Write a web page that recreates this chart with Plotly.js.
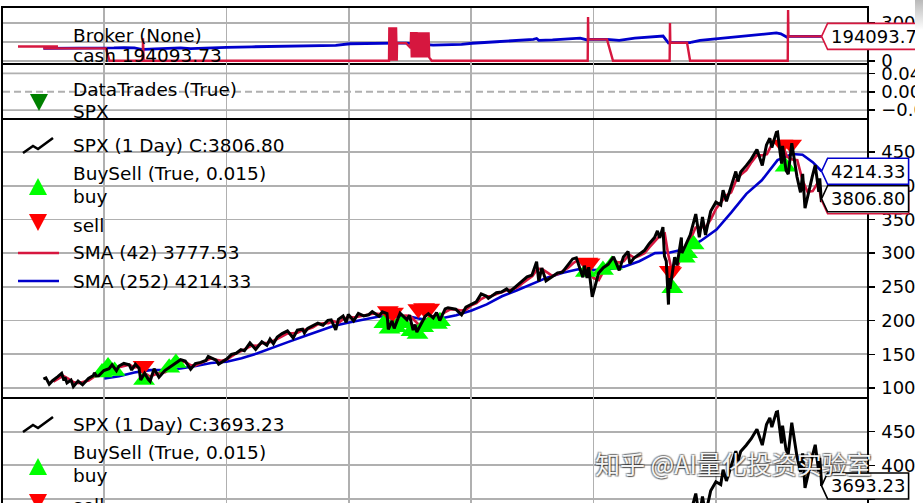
<!DOCTYPE html>
<html><head><meta charset="utf-8">
<script src="https://cdn.plot.ly/plotly-3.0.1.min.js"></script>
<style>html,body{margin:0;padding:0;background:#fff;}
#wrap{position:relative;width:923px;height:503px;overflow:hidden;background:#fff;}
#chart{position:absolute;left:0;top:0;width:915px;height:503px;}
#shade{position:absolute;left:915px;top:0;width:8px;height:30px;background:linear-gradient(to bottom,#b9b9b9,#ffffff);}
</style>
</head><body><div id="wrap"><div id="chart"></div><div id="shade"></div></div>
<script>
// ---------------- DATA ----------------
const spxDates = ['2010-01-04','2010-01-19','2010-02-08','2010-02-26','2010-03-31','2010-04-23','2010-05-07','2010-05-13','2010-05-25','2010-06-18','2010-07-02','2010-07-30','2010-08-26','2010-09-30','2010-10-29','2010-11-05','2010-11-16','2010-11-30','2010-12-31',
'2011-01-31','2011-02-18','2011-03-16','2011-03-31','2011-04-29','2011-05-31','2011-06-15','2011-07-07','2011-07-29','2011-08-08','2011-08-31','2011-09-22','2011-10-03','2011-10-27','2011-11-25','2011-12-30',
'2012-01-31','2012-02-29','2012-04-02','2012-04-30','2012-06-01','2012-06-29','2012-07-31','2012-08-31','2012-09-14','2012-10-31','2012-11-15','2012-12-31',
'2013-01-31','2013-02-28','2013-03-28','2013-04-18','2013-05-21','2013-06-24','2013-07-31','2013-08-30','2013-09-18','2013-10-08','2013-10-31','2013-11-29','2013-12-31',
'2014-02-03','2014-02-28','2014-03-31','2014-04-11','2014-04-30','2014-05-30','2014-06-30','2014-07-31','2014-08-29','2014-09-18','2014-10-15','2014-10-31','2014-11-28','2014-12-16','2014-12-29',
'2015-01-30','2015-02-27','2015-03-31','2015-04-30','2015-05-21','2015-06-30','2015-07-20','2015-08-17','2015-08-25','2015-09-16','2015-09-29','2015-11-03','2015-12-14','2015-12-29',
'2016-01-20','2016-02-01','2016-02-11','2016-03-31','2016-04-20','2016-05-19','2016-06-08','2016-06-27','2016-07-29','2016-08-15','2016-09-30','2016-11-04','2016-11-30','2016-12-30',
'2017-01-31','2017-03-01','2017-03-31','2017-04-13','2017-05-31','2017-06-30','2017-07-31','2017-08-18','2017-09-29','2017-10-31','2017-11-30','2017-12-29',
'2018-01-26','2018-02-08','2018-02-26','2018-03-23','2018-04-30','2018-05-31','2018-06-29','2018-07-31','2018-08-29','2018-09-20','2018-10-29','2018-11-07','2018-11-23','2018-12-03','2018-12-24',
'2019-01-31','2019-02-28','2019-03-29','2019-04-30','2019-06-03','2019-06-28','2019-07-26','2019-08-05','2019-08-30','2019-09-30','2019-10-31','2019-11-29','2019-12-31',
'2020-01-17','2020-01-31','2020-02-19','2020-02-28','2020-03-10','2020-03-23','2020-03-26','2020-04-01','2020-04-29','2020-05-13','2020-06-08','2020-06-11','2020-06-30','2020-07-31','2020-09-02','2020-09-23','2020-10-12','2020-10-30','2020-11-30','2020-12-31',
'2021-01-29','2021-02-12','2021-03-04','2021-03-31','2021-04-29','2021-05-12','2021-05-28','2021-06-30','2021-07-30','2021-09-02','2021-10-04','2021-10-29','2021-11-18','2021-11-30','2021-12-27','2022-01-03',
'2022-01-27','2022-02-02','2022-02-23','2022-03-08','2022-03-29','2022-04-29','2022-05-20','2022-06-02','2022-06-16','2022-07-29','2022-08-16','2022-09-06','2022-09-12','2022-09-22','2022-09-23'];
const spxClose = [1133,1150,1056,1104,1169,1217,1110,1157,1074,1117,1022,1102,1047,1141,1183,1225,1178,1180,1258,
1286,1343,1256,1326,1364,1345,1266,1353,1292,1119,1219,1129,1099,1285,1159,1258,
1312,1366,1419,1398,1278,1362,1379,1407,1466,1412,1353,1426,
1498,1515,1569,1552,1669,1573,1686,1633,1725,1656,1757,1806,1848,
1742,1859,1872,1816,1884,1924,1960,1931,2003,2011,1862,2018,2068,1973,2091,
1995,2105,2068,2086,2131,2063,2128,2102,1868,1996,1884,2110,2012,2078,
1859,1940,1829,2060,2102,2040,2119,2000,2174,2190,2168,2085,2199,2239,
2279,2396,2363,2329,2412,2423,2470,2426,2519,2575,2648,2674,
2873,2581,2780,2588,2648,2705,2718,2816,2914,2931,2641,2814,2633,2790,2351,
2704,2784,2834,2946,2744,2942,3026,2845,2926,2977,3038,3141,3231,
3330,3226,3386,2954,2882,2237,2630,2470,2940,2820,3232,3002,3100,3271,3580,3237,3535,3270,3622,3756,
3714,3934,3768,3973,4211,4063,4204,4298,4395,4537,4300,4605,4705,4567,4791,4797,
4327,4590,4226,4171,4632,4132,3901,4177,3666,4130,4305,3909,4110,3758,3806.80];
const spx2LastClose = 3693.23;

const sma42Dates = ['2010-03-05','2010-04-01','2010-05-01','2010-06-01','2010-07-01','2010-08-01','2010-09-01','2010-10-01','2010-11-01','2010-12-01',
'2011-01-01','2011-02-01','2011-03-01','2011-04-01','2011-05-01','2011-06-01','2011-07-01','2011-08-01','2011-09-01','2011-10-01','2011-11-01','2011-12-01',
'2012-01-01','2012-02-01','2012-03-01','2012-04-01','2012-05-01','2012-06-01','2012-07-01','2012-08-01','2012-09-01','2012-10-01','2012-11-01','2012-12-01',
'2013-01-01','2013-02-01','2013-03-01','2013-04-01','2013-05-01','2013-06-01','2013-07-01','2013-08-01','2013-09-01','2013-10-01','2013-11-01','2013-12-01',
'2014-01-01','2014-02-01','2014-03-01','2014-04-01','2014-05-01','2014-06-01','2014-07-01','2014-08-01','2014-09-01','2014-10-01','2014-11-01','2014-12-01',
'2015-01-01','2015-02-01','2015-03-01','2015-04-01','2015-05-01','2015-06-01','2015-07-01','2015-08-01','2015-09-01','2015-10-01','2015-11-01','2015-12-01',
'2016-01-01','2016-02-01','2016-03-01','2016-04-01','2016-05-01','2016-06-01','2016-07-01','2016-08-01','2016-09-01','2016-10-01','2016-11-01','2016-12-01',
'2017-01-01','2017-02-01','2017-03-01','2017-04-01','2017-05-01','2017-06-01','2017-07-01','2017-08-01','2017-09-01','2017-10-01','2017-11-01','2017-12-01',
'2018-01-01','2018-02-01','2018-03-01','2018-04-01','2018-05-01','2018-06-01','2018-07-01','2018-08-01','2018-09-01','2018-10-01','2018-11-01','2018-12-01',
'2019-01-01','2019-02-01','2019-03-01','2019-04-01','2019-05-01','2019-06-01','2019-07-01','2019-08-01','2019-09-01','2019-10-01','2019-11-01','2019-12-01',
'2020-01-01','2020-02-01','2020-03-01','2020-03-20','2020-04-10','2020-05-01','2020-06-01','2020-07-01','2020-08-01','2020-09-01','2020-10-01','2020-11-01','2020-12-01',
'2021-01-01','2021-02-01','2021-03-01','2021-04-01','2021-05-01','2021-06-01','2021-07-01','2021-08-01','2021-09-01','2021-10-01','2021-11-01','2021-12-01',
'2022-01-01','2022-02-01','2022-03-01','2022-04-01','2022-05-01','2022-06-01','2022-07-01','2022-08-01','2022-09-01','2022-09-23'];
const sma42Vals = [1095,1130,1180,1140,1090,1070,1085,1110,1165,1195,
1230,1275,1315,1310,1330,1345,1305,1315,1220,1170,1200,1230,
1235,1290,1340,1385,1385,1340,1335,1370,1405,1440,1420,1405,
1420,1470,1515,1550,1585,1630,1625,1665,1670,1690,1730,1775,
1810,1810,1820,1860,1870,1900,1945,1960,1960,1990,1965,2025,
2055,2045,2060,2085,2090,2105,2100,2095,2040,1970,2000,2075,
2070,1990,1920,1990,2060,2070,2085,2130,2170,2165,2150,2160,
2225,2260,2320,2360,2365,2395,2425,2450,2460,2490,2550,2600,
2660,2770,2760,2710,2660,2690,2730,2780,2850,2900,2810,2740,
2630,2600,2730,2800,2880,2860,2880,2980,2930,2960,3000,3090,
3180,3260,3290,3000,2760,2700,2910,3090,3200,3380,3380,3390,3500,
3660,3760,3850,3900,4080,4170,4230,4350,4450,4450,4470,4620,
4660,4610,4430,4390,4380,4080,3910,3920,4050,3777.53];

const sma252Dates = ['2011-01-03','2011-04-01','2011-07-01','2011-10-03','2012-01-03','2012-04-02','2012-07-02','2012-10-01','2013-01-02','2013-04-01','2013-07-01','2013-10-01',
'2014-01-02','2014-04-01','2014-07-01','2014-10-01','2015-01-02','2015-04-01','2015-07-01','2015-10-01','2016-01-04','2016-04-01','2016-07-01','2016-10-03',
'2017-01-03','2017-04-03','2017-07-03','2017-10-02','2018-01-02','2018-04-02','2018-07-02','2018-10-01','2019-01-02','2019-04-01','2019-07-01','2019-10-01',
'2020-01-02','2020-04-01','2020-07-01','2020-10-01','2021-01-04','2021-04-01','2021-07-01','2021-10-01','2022-01-03','2022-04-01','2022-06-01','2022-08-01','2022-09-23'];
const sma252Vals = [1140,1175,1230,1265,1270,1290,1325,1370,1390,1440,1510,1600,
1680,1760,1840,1920,1970,2020,2060,2065,2055,2010,2030,2080,
2150,2240,2360,2450,2550,2640,2710,2760,2750,2760,2800,2880,
3000,3010,3060,3180,3350,3600,3880,4080,4380,4470,4460,4350,4214.33];

const buyDates = ['2010-12-20','2011-01-25','2011-03-05','2011-08-28','2012-01-25','2012-03-05',
'2015-08-01','2015-09-01','2015-10-10','2015-11-20','2016-01-10','2016-02-15','2016-03-20','2016-05-01','2016-06-10','2016-06-28',
'2018-11-16','2019-02-26','2019-04-20','2020-04-15','2020-06-28','2020-07-12','2020-08-20','2022-02-20'];
const buyVals = [1230,1320,1250,1120,1300,1370,
1960,1880,1900,1960,1840,1800,1900,1960,1950,1990,
2720,2750,2825,2480,2930,3000,3130,4280];
const sellDates = ['2011-08-25','2015-08-22','2015-09-22','2016-02-20','2016-03-25','2016-04-25','2018-11-25','2018-12-08','2020-03-31','2020-04-08','2022-02-01','2022-03-25'];
const sellVals = [1330,2140,2120,2170,2185,2180,2860,2850,2740,2720,4610,4610];

const cashDates = ['2010-01-04','2011-01-13','2011-02-02','2011-08-19','2011-08-22','2011-08-25','2015-08-29',
'2015-08-31','2015-09-04','2015-09-08','2015-09-12','2015-09-16','2015-09-20','2015-09-24','2015-09-28','2015-10-02','2015-10-06','2015-10-10','2015-10-14','2015-10-16',
'2015-12-09','2016-01-05',
'2016-01-08','2016-01-12','2016-01-16','2016-01-20','2016-01-24','2016-01-28','2016-02-01','2016-02-05','2016-02-09','2016-02-13','2016-02-17','2016-02-21','2016-02-25','2016-02-29',
'2016-03-04','2016-03-08','2016-03-12','2016-03-16','2016-03-20','2016-03-24','2016-03-28','2016-04-01','2016-04-05','2016-04-09','2016-04-13','2016-04-17','2016-04-21','2016-04-25',
'2016-05-10','2018-11-27','2018-11-29','2018-12-01','2019-03-22','2019-04-27','2020-03-30','2020-04-01','2020-04-03','2020-07-12','2020-07-30','2022-03-05','2022-03-07','2022-03-09','2022-09-23'];
const cashVals = [100000,100000,1500,1500,180000,1500,1500,
266000,1500,266000,1500,266000,1500,266000,1500,266000,1500,266000,1500,141000,
141000,103000,
228000,28000,228000,28000,228000,28000,228000,28000,228000,28000,226000,28000,226000,28000,
226000,28000,226000,28000,226000,28000,226000,28000,226000,28000,226000,28000,226000,28000,
1500,1500,347000,171000,171000,1500,1500,300000,144500,144500,1500,1500,402000,194093.73,194093.73];

const valueDates = ['2010-01-04','2011-01-13','2011-03-01','2011-05-01','2011-07-01','2011-08-19','2011-08-25','2011-11-01','2012-04-01','2012-06-01','2012-10-01','2013-01-01','2013-06-01',
'2014-01-01','2014-03-20','2014-10-15','2015-01-08','2015-05-20','2015-08-20','2015-08-29','2015-10-16','2015-12-09','2016-05-10','2016-05-18','2016-11-04',
'2017-01-06','2017-06-01','2017-10-01','2018-01-07','2018-01-26','2018-02-08','2018-05-01','2018-08-05','2018-10-13','2018-11-23','2018-11-29','2019-03-22','2019-04-27','2019-06-03','2019-09-04',
'2020-02-20','2020-03-23','2020-04-01','2020-07-30','2020-08-11','2020-09-28','2021-01-21','2021-06-11','2021-10-29','2021-12-27','2022-01-23','2022-03-01','2022-03-07','2022-09-23'];
const valueVals = [100000,100000,103000,106000,103000,90000,91000,95000,104000,97000,106000,107000,112000,
118000,122000,124000,136000,141000,144000,141000,141000,141000,126000,126000,132000,
140000,152000,162000,171000,178000,163000,167000,172000,180000,166000,171000,171000,168000,163000,180000,
197000,142000,144500,144500,150000,162000,178000,195000,212000,222000,214000,187000,194093.73,194093.73];

const gridDates = ['2011-01-01','2013-01-01','2015-01-01','2017-01-01','2019-01-01','2021-01-01'];
const dataName = 'SPX';
const watermark = '知乎 @AI量化投资实验室';

// ---------------- LAYOUT HELPERS ----------------
const W = 915, H = 503, ML = 3, MR = 48, MT = 8, MB = 0;
const PW = W - ML - MR, PH = H - MT - MB;
const P = x => (x - ML) / PW;
const Q = y => (H - MB - y) / PH;
const CRIMSON = '#d6173f', BLUE = '#0000cc', GRID = '#b0b0b0';
const FONT = 'DejaVu Sans';
const xRange = ['2009-05-08', '2023-06-21'];
const lastDate = spxDates[spxDates.length - 1];
const tipP = (Date.parse(lastDate) - Date.parse(xRange[0])) / (Date.parse(xRange[1]) - Date.parse(xRange[0]));

const spxLast = spxClose[spxClose.length - 1];
const sma42Last = sma42Vals[sma42Vals.length - 1];
const sma252Last = sma252Vals[sma252Vals.length - 1];
const cashLast = cashVals[cashVals.length - 1];
const spx2Close = spxClose.slice(0, -1).concat([spx2LastClose]);

function pathPx(pts, close) {
  return pts.map((p, i) => (i ? 'L' : 'M') + P(p[0]).toFixed(5) + ',' + Q(p[1]).toFixed(5)).join(' ') + (close ? ' Z' : '');
}

// ---------------- TRACES ----------------
const traces = [
  {x: valueDates, y: valueVals, xaxis: 'x', yaxis: 'y', mode: 'lines', line: {color: BLUE, width: 2.8}, hoverinfo: 'skip'},
  {x: cashDates, y: cashVals, xaxis: 'x', yaxis: 'y', mode: 'lines', line: {color: CRIMSON, width: 2.4}, hoverinfo: 'skip'},
  {x: [spxDates[0]], y: [0], xaxis: 'x2', yaxis: 'y2', mode: 'markers', marker: {opacity: 0}, hoverinfo: 'skip'},
  {x: sma252Dates, y: sma252Vals, xaxis: 'x3', yaxis: 'y3', mode: 'lines', line: {color: BLUE, width: 2.6}, hoverinfo: 'skip'},
  {x: sma42Dates, y: sma42Vals, xaxis: 'x3', yaxis: 'y3', mode: 'lines', line: {color: CRIMSON, width: 2.6}, hoverinfo: 'skip'},
  {x: buyDates, y: buyVals, xaxis: 'x3', yaxis: 'y3', mode: 'markers', marker: {symbol: 'triangle-up', size: 19, color: '#00ff00', line: {width: 0}}, hoverinfo: 'skip'},
  {x: sellDates, y: sellVals, xaxis: 'x3', yaxis: 'y3', mode: 'markers', marker: {symbol: 'triangle-down', size: 19, color: '#ff0000', line: {width: 0}}, hoverinfo: 'skip'},
  {x: spxDates, y: spxClose, xaxis: 'x3', yaxis: 'y3', mode: 'lines', line: {color: '#000', width: 3}, hoverinfo: 'skip'},
  {x: spxDates, y: spx2Close, xaxis: 'x4', yaxis: 'y4', mode: 'lines', line: {color: '#000', width: 3}, hoverinfo: 'skip'}
];

// ---------------- AXES ----------------
const xCommon = {type: 'date', range: xRange, showticklabels: false, ticks: '', tickvals: gridDates,
  showgrid: true, gridcolor: GRID, gridwidth: 1.8, showline: true, mirror: true, linecolor: '#000', linewidth: 1.6,
  zeroline: false, fixedrange: true};
const yCommon = {side: 'right', ticks: 'outside', ticklen: 6, tickwidth: 1.5, tickcolor: '#000',
  showline: true, mirror: true, linecolor: '#000', linewidth: 1.6, showgrid: true, gridcolor: GRID, gridwidth: 1.8,
  zeroline: false, tickfont: {family: FONT, size: 18, color: '#000'}, ticklabelstandoff: 3, fixedrange: true};

const d1 = [Q(63), 1], d2 = [Q(120), Q(63)], d3 = [Q(397), Q(120)], d4 = [0, Q(397)];

const layout = {
  width: W, height: H, margin: {l: ML, r: MR, t: MT, b: MB, pad: 0},
  paper_bgcolor: '#fff', plot_bgcolor: '#fff', showlegend: false, hovermode: false,
  font: {family: FONT, size: 18, color: '#000'},
  xaxis: Object.assign({}, xCommon, {anchor: 'y'}),
  xaxis2: Object.assign({}, xCommon, {anchor: 'y2', matches: 'x', showline: false}),
  xaxis3: Object.assign({}, xCommon, {anchor: 'y3', matches: 'x'}),
  xaxis4: Object.assign({}, xCommon, {anchor: 'y4', matches: 'x', showline: false}),
  yaxis: Object.assign({}, yCommon, {anchor: 'x', domain: d1, range: [-15800, 418400], tickvals: [0, 150000, 300000], tickformat: 'd'}),
  yaxis2: Object.assign({}, yCommon, {anchor: 'x2', domain: d2, range: [-0.0616, 0.0627], tickvals: [-0.04, 0, 0.04], tickformat: '.2f', showgrid: false}),
  yaxis3: Object.assign({}, yCommon, {anchor: 'x3', domain: d3, range: [866, 4975], tickvals: [1000, 1500, 2000, 2500, 3000, 3500, 4000, 4500]}),
  yaxis4: Object.assign({}, yCommon, {anchor: 'x4', domain: d4, range: [3440, 5015], tickvals: [3500, 4000, 4500]}),
  shapes: [], annotations: []
};

// panel 2 grid + dashed zero line
[-0.04, 0.04].forEach(v => layout.shapes.push({type: 'line', xref: 'paper', yref: 'y2', x0: 0, x1: 1, y0: v, y1: v, line: {color: GRID, width: 1.8}, layer: 'below'}));
layout.shapes.push({type: 'line', xref: 'paper', yref: 'y2', x0: 0, x1: 1, y0: 0, y1: 0, line: {color: GRID, width: 1.8, dash: '7px,4px'}, layer: 'below'});

// legend handles
const S = layout.shapes;
const zig = [[23, 153], [33, 146], [38, 149], [53, 138]];
S.push({type: 'path', xref: 'paper', yref: 'paper', path: pathPx([[18, 46.5], [58, 46.5]]), line: {color: CRIMSON, width: 2.6}, layer: 'above'});
S.push({type: 'path', xref: 'paper', yref: 'paper', path: pathPx([[30, 94], [48, 94], [39, 111]], true), fillcolor: '#008000', line: {width: 0}, layer: 'above'});
S.push({type: 'path', xref: 'paper', yref: 'paper', path: pathPx(zig), line: {color: '#000', width: 2.6}, layer: 'above'});
S.push({type: 'path', xref: 'paper', yref: 'paper', path: pathPx([[29, 195], [47, 195], [38, 178]], true), fillcolor: '#00ff00', line: {width: 0}, layer: 'above'});
S.push({type: 'path', xref: 'paper', yref: 'paper', path: pathPx([[29, 214], [47, 214], [38, 231]], true), fillcolor: '#ff0000', line: {width: 0}, layer: 'above'});
S.push({type: 'path', xref: 'paper', yref: 'paper', path: pathPx([[18, 253], [59, 253]]), line: {color: CRIMSON, width: 2.6}, layer: 'above'});
S.push({type: 'path', xref: 'paper', yref: 'paper', path: pathPx([[18, 281], [59, 281]]), line: {color: BLUE, width: 2.6}, layer: 'above'});
S.push({type: 'path', xref: 'paper', yref: 'paper', path: pathPx(zig.map(p => [p[0], p[1] + 279])), line: {color: '#000', width: 2.6}, layer: 'above'});
S.push({type: 'path', xref: 'paper', yref: 'paper', path: pathPx([[29, 475], [47, 475], [38, 458]], true), fillcolor: '#00ff00', line: {width: 0}, layer: 'above'});
S.push({type: 'path', xref: 'paper', yref: 'paper', path: pathPx([[29, 494], [47, 494], [38, 511]], true), fillcolor: '#ff0000', line: {width: 0}, layer: 'above'});

// value label boxes (left-arrow style)
function labelBox(yref, yval, color, w) {
  return {type: 'path', xref: 'paper', yref: yref, xsizemode: 'pixel', ysizemode: 'pixel', xanchor: tipP, yanchor: yval,
    path: `M0,0 L6,13 L${w},13 L${w},-13 L6,-13 Z`, line: {color: color, width: 1.6}, fillcolor: '#fff', layer: 'above'};
}
S.push(labelBox('y', cashLast, CRIMSON, 140));
S.push(labelBox('y3', sma42Last, CRIMSON, 87));
S.push(labelBox('y3', spxLast, '#000', 87));
S.push(labelBox('y3', sma252Last, BLUE, 87));
S.push(labelBox('y4', spx2LastClose, '#000', 87));

const A = layout.annotations;
function txt(x, y, t, size) {
  A.push({xref: 'paper', yref: 'paper', x: P(x), y: Q(y), xanchor: 'left', yanchor: 'middle', text: t, showarrow: false,
    font: {family: FONT, size: size || 18.5, color: '#000'}});
}
txt(71, 35, 'Broker (None)');
txt(71, 56, 'cash ' + cashLast.toFixed(2));
txt(71, 90, 'DataTrades (True)');
txt(71, 111, dataName);
txt(71, 145, dataName + ' (1 Day) C:' + spxLast.toFixed(2));
txt(71, 173, 'BuySell (True, 0.015)');
txt(71, 196, 'buy');
txt(71, 225, 'sell');
txt(71, 253, 'SMA (42) ' + sma42Last.toFixed(2));
txt(71, 281, 'SMA (252) ' + sma252Last.toFixed(2));
txt(71, 424, dataName + ' (1 Day) C:' + spx2LastClose.toFixed(2));
txt(71, 452, 'BuySell (True, 0.015)');
txt(71, 475, 'buy');
txt(71, 505, 'sell');

function valLabel(yref, v) {
  A.push({xref: 'paper', yref: yref, x: tipP + 7 / PW, y: v, xanchor: 'left', yanchor: 'middle', text: v.toFixed(2), showarrow: false,
    font: {family: FONT, size: 18, color: '#000'}});
}
valLabel('y', cashLast);
valLabel('y3', spxLast);
valLabel('y3', sma252Last);
valLabel('y4', spx2LastClose);

A.push({xref: 'paper', yref: 'paper', x: P(733), y: Q(463), xanchor: 'center', yanchor: 'middle', text: watermark, showarrow: false,
  font: {family: 'Noto Sans CJK SC', size: 25, color: 'rgba(255,255,255,0.95)',
    shadow: '1px 1px 1px rgba(0,0,0,0.55), -1px -1px 1px rgba(0,0,0,0.35), 1px -1px 1px rgba(0,0,0,0.35), -1px 1px 1px rgba(0,0,0,0.35)'}});

Plotly.newPlot('chart', traces, layout, {staticPlot: true, displayModeBar: false});
</script></body></html>
